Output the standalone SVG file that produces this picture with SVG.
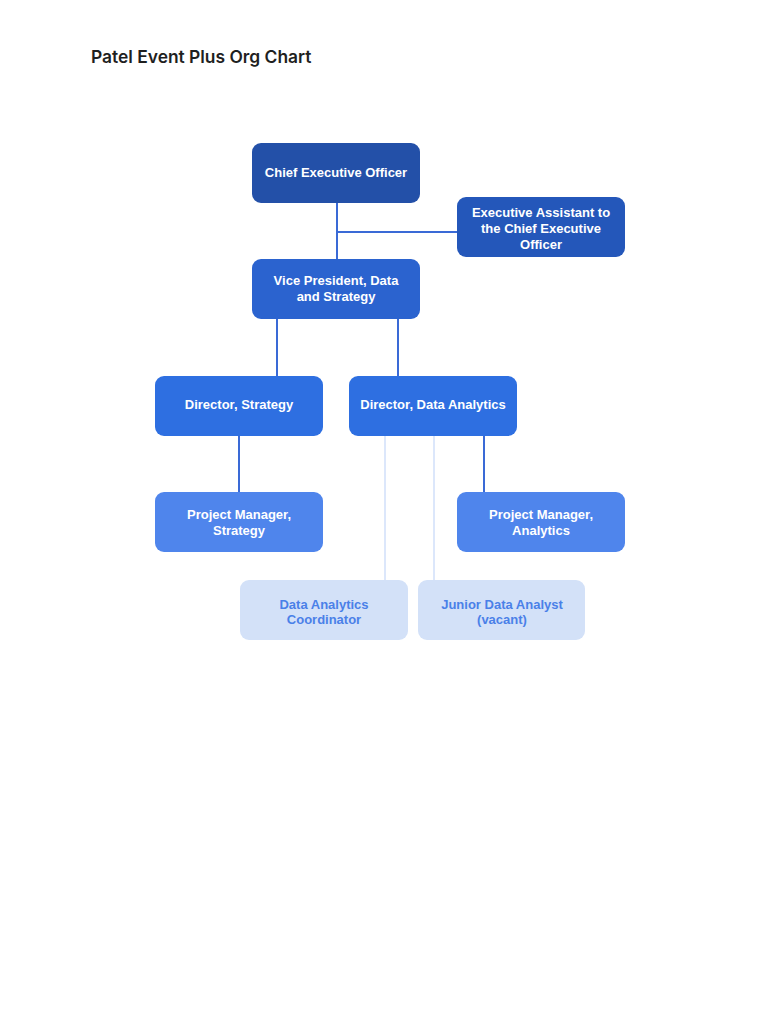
<svg xmlns="http://www.w3.org/2000/svg" width="768" height="1024" viewBox="0 0 768 1024">
<style>
.t{font-family:"Liberation Sans",Arial,sans-serif;font-weight:bold;font-size:13px;text-anchor:middle;fill:#ffffff}
.tl{fill:#4a80e8}
.ln{stroke:#3a6ad6;stroke-width:2;fill:none}
.lt{stroke:#dce7fb;stroke-width:2;fill:none}
</style>
<rect width="768" height="1024" fill="#ffffff"/>
<text x="91" y="63" font-family="Inter,'Open Sans',sans-serif" font-weight="600" font-size="17.4" fill="#1f1f1f">Patel Event Plus Org Chart</text>
<g id="connectors">
<path class="ln" d="M337 203V259" stroke="#2c58b4"/>
<path class="ln" d="M337 232H457" stroke="#2c58b4"/>
<path class="ln" d="M277 319V376"/>
<path class="ln" d="M398 319V376"/>
<path class="ln" d="M239 436V492"/>
<path class="ln" d="M484 436V492"/>
<path class="lt" d="M385 436V580"/>
<path class="lt" d="M434 436V580"/>
</g>
<g id="ceo"><rect x="252" y="143" width="168" height="60" rx="9" fill="#2350a8"/><text class="t" x="336" y="177">Chief Executive Officer</text></g>
<g id="ea"><rect x="457" y="197" width="168" height="60" rx="9" fill="#2457ba"/><text class="t" x="541" y="217">Executive Assistant to</text><text class="t" x="541" y="233">the Chief Executive</text><text class="t" x="541" y="249">Officer</text></g>
<g id="vp"><rect x="252" y="259" width="168" height="60" rx="9" fill="#2b63cf"/><text class="t" x="336" y="285">Vice President, Data</text><text class="t" x="336" y="301">and Strategy</text></g>
<g id="dir-strategy"><rect x="155" y="376" width="168" height="60" rx="9" fill="#2e6fe1"/><text class="t" x="239" y="409">Director, Strategy</text></g>
<g id="dir-analytics"><rect x="349" y="376" width="168" height="60" rx="9" fill="#2e6fe1"/><text class="t" x="433" y="409">Director, Data Analytics</text></g>
<g id="pm-strategy"><rect x="155" y="492" width="168" height="60" rx="9" fill="#4f85ec"/><text class="t" x="239" y="519">Project Manager,</text><text class="t" x="239" y="535">Strategy</text></g>
<g id="pm-analytics"><rect x="457" y="492" width="168" height="60" rx="9" fill="#4f85ec"/><text class="t" x="541" y="519">Project Manager,</text><text class="t" x="541" y="535">Analytics</text></g>
<g id="da-coordinator"><rect x="240" y="580" width="168" height="60" rx="9" fill="#d3e1f8"/><text class="t tl" x="324" y="609">Data Analytics</text><text class="t tl" x="324" y="624">Coordinator</text></g>
<g id="junior-analyst"><rect x="418" y="580" width="167" height="60" rx="9" fill="#d3e1f8"/><text class="t tl" x="502" y="609">Junior Data Analyst</text><text class="t tl" x="502" y="624">(vacant)</text></g>
</svg>
